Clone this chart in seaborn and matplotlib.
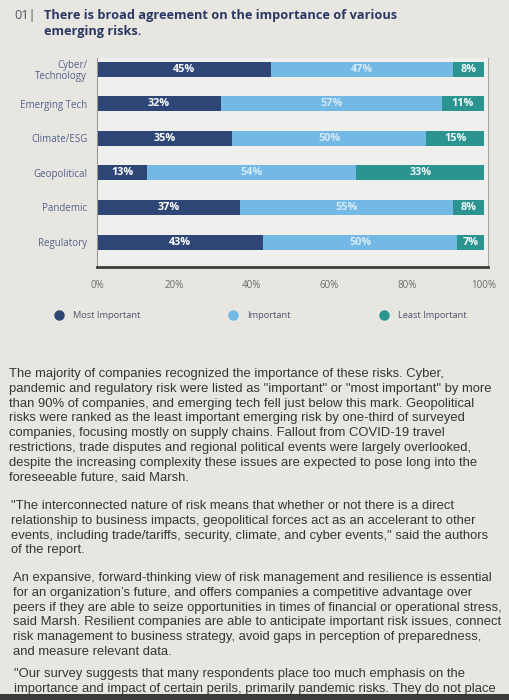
import matplotlib
matplotlib.use("Agg")
import matplotlib.pyplot as plt
import seaborn as sns
import pandas as pd
from matplotlib.lines import Line2D
from matplotlib.patches import Rectangle

# ---------------- data ----------------
categories = ["Cyber/\nTechnology", "Emerging Tech", "Climate/ESG",
              "Geopolitical", "Pandemic", "Regulatory"]
most_important = [45, 32, 35, 13, 37, 43]
important = [47, 57, 50, 54, 55, 50]
least_important = [8, 11, 15, 33, 8, 7]
series_names = ["Most Important", "Important", "Least Important"]
x_ticks = [0, 20, 40, 60, 80, 100]
x_tick_labels = ["0%", "20%", "40%", "60%", "80%", "100%"]

title_number = "01|"
title_lines = ["There is broad agreement on the importance of various",
               "emerging risks."]

paragraph1 = [
    "The majority of companies recognized the importance of these risks. Cyber,",
    "pandemic and regulatory risk were listed as \"important\" or \"most important\" by more",
    "than 90% of companies, and emerging tech fell just below this mark. Geopolitical",
    "risks were ranked as the least important emerging risk by one-third of surveyed",
    "companies, focusing mostly on supply chains. Fallout from COVID-19 travel",
    "restrictions, trade disputes and regional political events were largely overlooked,",
    "despite the increasing complexity these issues are expected to pose long into the",
    "foreseeable future, said Marsh.",
]
paragraph2 = [
    "\"The interconnected nature of risk means that whether or not there is a direct",
    "relationship to business impacts, geopolitical forces act as an accelerant to other",
    "events, including trade/tariffs, security, climate, and cyber events,\" said the authors",
    "of the report.",
]
paragraph3 = [
    "An expansive, forward-thinking view of risk management and resilience is essential",
    "for an organization\u2019s future, and offers companies a competitive advantage over",
    "peers if they are able to seize opportunities in times of financial or operational stress,",
    "said Marsh. Resilient companies are able to anticipate important risk issues, connect",
    "risk management to business strategy, avoid gaps in perception of preparedness,",
    "and measure relevant data.",
]
paragraph4 = [
    "\"Our survey suggests that many respondents place too much emphasis on the",
    "importance and impact of certain perils, primarily pandemic risks. They do not place",
]

# ---------------- styles ----------------
NAVY = "#2d4676"
LIGHT = "#74b9e6"
TEAL = "#2b9490"
BG = "#e7e6e0"
PLOT_BG = "#efefee"

W, H = 509, 700
fig = plt.figure(figsize=(W / 100, H / 100), dpi=100)
fig.patch.set_facecolor(BG)


def fx(px):
    return px / W


def fy(py):
    return 1 - py / H


df = pd.DataFrame({
    "category": categories,
    "most": most_important,
    "important": important,
    "least": least_important,
})
df["cum2"] = df["most"] + df["important"]
df["cum3"] = df["cum2"] + df["least"]

ax = fig.add_axes([fx(97), fy(267), fx(391), (267 - 58) / H])
ax.set_facecolor(PLOT_BG)

bar_w = 0.43
sns.barplot(data=df, y="category", x="cum3", color=TEAL, width=bar_w,
            saturation=1, orient="h", ax=ax)
sns.barplot(data=df, y="category", x="cum2", color=LIGHT, width=bar_w,
            saturation=1, orient="h", ax=ax)
sns.barplot(data=df, y="category", x="most", color=NAVY, width=bar_w,
            saturation=1, orient="h", ax=ax)

ax.set_xlim(0, 101)
ax.set_ylim(len(categories) - 1 + 0.72, -0.32)
ax.set_xlabel("")
ax.set_ylabel("")
ax.set_xticks(x_ticks)
ax.set_xticklabels(x_tick_labels, fontfamily="Open Sans", fontsize=7.0,
                   color="#6a6a6a")
ax.set_yticks(range(len(categories)))
ax.set_yticklabels(categories, fontfamily="Open Sans", fontsize=7.0,
                   color="#55618a", linespacing=1.05)
ax.tick_params(axis="both", length=0)
ax.tick_params(axis="x", pad=9)
ax.tick_params(axis="y", pad=7)
ax.grid(False)

ax.spines["top"].set_visible(False)
ax.spines["left"].set_color("#9a9a9a")
ax.spines["left"].set_linewidth(0.8)
ax.spines["right"].set_color("#a8a8a8")
ax.spines["right"].set_linewidth(0.8)
ax.spines["bottom"].set_color("#3d3d3d")
ax.spines["bottom"].set_linewidth(2.0)

# value labels
lab_kw = dict(ha="center", va="center", fontsize=7.8, fontweight="bold",
              fontfamily="Open Sans")
for i in range(len(categories)):
    m, im, le = most_important[i], important[i], least_important[i]
    ax.text(m / 2, i, f"{m}%", color="white", **lab_kw)
    ax.text(m + im / 2, i, f"{im}%", color="#d4eaf7", **lab_kw)
    ax.text(m + im + le / 2, i, f"{le}%", color="#f0f8f8", **lab_kw)

# legend
handles = [Line2D([0], [0], marker="o", linestyle="", markersize=6.5,
                  markerfacecolor=c, markeredgecolor=c)
           for c in [NAVY, LIGHT, TEAL]]
leg = fig.legend(handles, series_names, loc="center",
                 bbox_to_anchor=(fx(258), fy(316)), ncol=3, frameon=False,
                 columnspacing=9.0, handletextpad=0.5,
                 prop={"family": "Open Sans", "size": 6.7})
for t in leg.get_texts():
    t.set_color("#4d5670")

# title
fig.text(fx(14), fy(15), title_number, ha="left", va="center",
         fontfamily="Open Sans", fontsize=9.2, color="#4f5563")
for k, line in enumerate(title_lines):
    fig.text(fx(44), fy(15 + 17 * k), line, ha="left", va="center",
             fontfamily="Open Sans", fontweight="bold", fontsize=9.2,
             color="#2a3763")

# body text
body_kw = dict(ha="left", va="center", fontfamily="Liberation Sans",
               fontsize=9.4, color="#363636")
spacing = 14.8
for start_y, x0, lines in [(374, 9, paragraph1), (506, 11, paragraph2),
                           (578, 13, paragraph3), (674, 14, paragraph4)]:
    for k, line in enumerate(lines):
        fig.text(fx(x0), fy(start_y + k * spacing), line, **body_kw)

# dark bottom edge of the photographed page
fig.add_artist(Rectangle((0, 0), 1, 6 / H, transform=fig.transFigure,
                         facecolor="#3b3b3b", edgecolor="none"))

fig.savefig("out.png", dpi=100, facecolor=fig.get_facecolor())
